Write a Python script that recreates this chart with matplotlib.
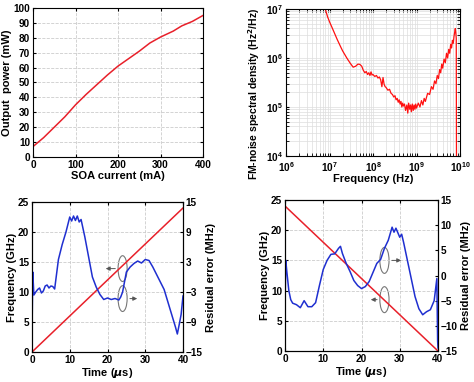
import numpy as np
import matplotlib.pyplot as plt
from matplotlib.patches import Ellipse

plt.rcParams['font.family'] = ['Liberation Sans', 'DejaVu Sans']
plt.rcParams['font.weight'] = 'bold'
plt.rcParams['axes.labelweight'] = 'bold'
plt.rcParams['mathtext.default'] = 'bf'
plt.rcParams['xtick.direction'] = 'in'
plt.rcParams['ytick.direction'] = 'in'
plt.rcParams['xtick.top'] = True
plt.rcParams['xtick.labelsize'] = 7.2
plt.rcParams['ytick.labelsize'] = 7.2
plt.rcParams['xtick.major.pad'] = 2
plt.rcParams['ytick.major.pad'] = 2
plt.rcParams['axes.labelsize'] = 8

# (a) output power vs SOA current
current = [0, 25, 50, 75, 100, 125, 150, 175, 200, 225, 250, 275, 300, 330, 350, 375, 400]
power = [7, 13, 20, 27, 35, 42, 48.5, 55, 61, 66, 71, 76.5, 80.5, 84.5, 88, 91, 95]

# (b) FM-noise PSD
freq = [8e6, 9e6, 1.0e7, 1.2e7, 1.5e7, 1.8e7, 2.0e7, 2.5e7, 3.0e7, 3.5e7, 4.0e7, 4.5e7, 5.0e7,
        5.5e7, 6.0e7, 6.5e7, 7.0e7, 7.5e7, 8.0e7, 8.5e7, 9.0e7, 9.5e7, 1.0e8, 1.1e8, 1.2e8,
        1.3e8, 1.4e8, 1.5e8, 1.6e8, 1.7e8, 1.8e8, 1.9e8, 2.0e8, 2.2e8, 2.4e8, 2.6e8, 2.8e8,
        3.0e8, 3.2e8, 3.4e8, 3.6e8, 3.8e8, 4.0e8, 4.2e8, 4.4e8, 4.6e8, 4.8e8, 5.0e8, 5.3e8,
        5.6e8, 6.0e8, 6.3e8, 6.6e8, 7.0e8, 7.3e8, 7.6e8, 8.0e8, 8.4e8, 8.8e8, 9.2e8, 9.6e8,
        1.0e9, 1.1e9, 1.2e9, 1.3e9, 1.4e9, 1.5e9, 1.6e9, 1.8e9, 2.0e9, 2.2e9, 2.4e9, 2.6e9,
        2.8e9, 3.0e9, 3.2e9, 3.4e9, 3.6e9, 3.8e9, 4.0e9, 4.3e9, 4.6e9, 4.9e9, 5.2e9, 5.5e9,
        5.8e9, 6.1e9, 6.4e9, 6.7e9, 7.0e9, 7.3e9, 7.6e9, 7.8e9, 8.0e9, 8.2e9, 8.3e9]
psd = [1e7, 7e6, 5.5e6, 3.8e6, 2.4e6, 1.7e6, 1.4e6, 1.0e6, 7.8e5, 6.5e5, 6.8e5, 7.5e5, 7.4e5,
       6.8e5, 5.6e5, 5.0e5, 5.3e5, 4.6e5, 5.0e5, 4.4e5, 5.2e5, 4.5e5, 4.6e5, 4.2e5, 4.4e5,
       3.9e5, 4.1e5, 3.6e5, 2.6e5, 4.0e5, 2.9e5, 2.6e5, 2.5e5, 2.2e5, 2.3e5, 1.9e5, 1.8e5,
       1.6e5, 1.7e5, 1.4e5, 1.5e5, 1.25e5, 1.4e5, 1.15e5, 1.3e5, 1.0e5, 1.2e5, 1.05e5, 1.15e5,
       0.85e5, 1.1e5, 0.75e5, 1.2e5, 0.9e5, 1.1e5, 0.8e5, 1.15e5, 0.85e5, 1.1e5, 0.9e5, 1.15e5,
       0.95e5, 1.2e5, 1.0e5, 1.35e5, 1.1e5, 1.5e5, 1.3e5, 1.9e5, 1.8e5, 2.6e5, 2.3e5, 3.4e5,
       3.0e5, 4.4e5, 3.8e5, 5.8e5, 5.0e5, 7.5e5, 6.2e5, 9.5e5, 8.0e5, 1.25e6, 1.0e6, 1.5e6,
       1.25e6, 1.9e6, 1.6e6, 2.3e6, 2.0e6, 2.8e6, 3.5e6, 4.0e6, 3.3e6, 2.5e6, 1e4]

# (c) up-chirp: time, residual error
t_up = [0, 0.2, 0.5, 1, 1.5, 2, 2.5, 3, 3.5, 4, 4.5, 5, 5.5, 6, 7, 8, 9, 10, 10.5, 11, 11.5,
        12, 12.5, 13, 14, 15, 16, 17, 18, 19, 20, 21, 22, 23, 23.5, 24, 25, 26, 27, 28,
        29, 30, 31, 32, 33, 34, 35, 36, 37, 38, 38.5, 39, 39.5, 40]
err_up = [-11.5, 1, -3.6, -3, -2.5, -2.2, -3.2, -2.8, -1.8, -1.6, -2.2, -1.8, -1.9, -2.4, 3.5,
          6.5, 9, 12, 11.2, 12.2, 11.3, 12.2, 11, 11.5, 8, 4, 0, -2, -3.5, -4.5, -4.2, -4.5,
          -4.3, -4.6, -4, -3, 1, 2, 2.7, 3.2, 2.8, 3.5, 3.3, 2, 0.5, -1, -2.5, -5, -7.5,
          -10, -11.4, -9.5, -7.5, -3.8]
t_c = [0, 40]
f_up = [0, 24]

# (d) down-chirp: time, residual error
t_dn = [0, 0.2, 0.5, 1, 1.5, 2, 3, 4, 5, 5.5, 6, 7, 8, 9, 10, 11, 12, 13, 14, 14.5, 15,
        16, 17, 18, 19, 20, 21, 22, 23, 24, 25, 26, 27, 28, 28.5, 29, 30, 30.5, 31, 32, 33,
        34, 35, 36, 37, 38, 39, 39.7, 39.9, 40]
err_dn = [-6.6, 3, 0.6, -3, -4.8, -5.5, -5.8, -6.4, -5, -5.6, -6.2, -6.2, -5.4, -2, 1.2, 3,
          4.2, 4.3, 5.4, 5.8, 4.4, 2.4, 0.8, -1, -2, -2.6, -2.2, -1.2, 0.6, 2.4, 3.2, 5.4,
          7, 9.6, 8.6, 9.4, 7.6, 8.2, 6.6, 3, -0.6, -4.2, -6.6, -7.8, -7.2, -6.8, -5, -0.6,
          -13, -14.4]
f_dn = [24, 0]


def px(l, t, r, b):
    return [l / 474, 1 - b / 382, (r - l) / 474, (b - t) / 382]


fig = plt.figure(figsize=(4.74, 3.82), dpi=100)

# panel a
ax1 = fig.add_axes(px(33, 8, 203, 157))
ax1.plot(current, power, color='#e8202a', lw=1.1)
ax1.set_xlim(0, 400)
ax1.set_ylim(0, 100)
ax1.set_xticks([0, 100, 200, 300, 400])
ax1.set_yticks(range(0, 101, 10))
ax1.tick_params(right=True, length=2.5)
ax1.grid(True, ls='--', color='#cccccc', lw=0.6)
ax1.set_xlabel('SOA current (mA)', labelpad=1)
ax1.set_ylabel('Output  power (mW)', labelpad=1)

# panel b
ax2 = fig.add_axes(px(286, 9, 460, 156))
ax2.loglog(freq, psd, color='#ff1010', lw=0.9)
ax2.set_xlim(1e6, 1e10)
ax2.set_ylim(1e4, 1e7)
ax2.tick_params(right=True, length=2.5, which='both')
ax2.tick_params(axis='x', pad=3)
ax2.grid(True, which='both', ls='-', color='#dddddd', lw=0.5)
ax2.set_xlabel('Frequency (Hz)', labelpad=0)
ax2.set_ylabel('FM-noise spectral density (Hz$^2$/Hz)', labelpad=1, fontsize=7.5)
ax2.yaxis.set_label_coords(-0.14, 0.42)


def chirp_panel(rect, t, err, fline, rticks, ell, arr):
    ax = fig.add_axes(px(*rect))
    ax.plot(t_c, fline, color='#e8202a', lw=1.1)
    ax.set_xlim(0, 40)
    ax.set_ylim(0, 25)
    ax.set_xticks([0, 10, 20, 30, 40])
    ax.set_yticks([0, 5, 10, 15, 20, 25])
    ax.tick_params(length=2.5)
    ax.grid(True, ls='--', color='#cccccc', lw=0.6)
    ax.set_xlabel(r'Time ($\mathit{\mu}$s)', labelpad=1)
    ax.set_ylabel('Frequency (GHz)', labelpad=1)
    axr = ax.twinx()
    axr.plot(t, err, color='#1f2fd0', lw=1.1)
    axr.set_ylim(-15, 15)
    axr.set_yticks(rticks)
    axr.tick_params(length=2.5, direction='in')
    axr.set_ylabel('Residual error (MHz)', labelpad=2)
    for (cx, cy), (x0, x1) in zip(ell, arr):
        ax.add_patch(Ellipse((cx, cy), 2.4, 4.3, fill=False, ec='#777777', lw=0.8))
        ax.annotate('', xy=(x1, cy), xytext=(x0, cy),
                    arrowprops=dict(arrowstyle='-|>', color='#555555', lw=0.7,
                                    mutation_scale=6))


chirp_panel((32, 202, 183, 352), t_up, err_up, f_up, [-15, -9, -3, 3, 9, 15],
            [(24, 13.9), (24, 8.9)], [(22.8, 18.8), (25.2, 28.6)])
chirp_panel((285, 200, 438, 351), t_dn, err_dn, f_dn, [-15, -10, -5, 0, 5, 10, 15],
            [(26, 15), (26, 8.5)], [(27.2, 31.1), (24.8, 21.7)])

fig.savefig('out.png', dpi=100)
